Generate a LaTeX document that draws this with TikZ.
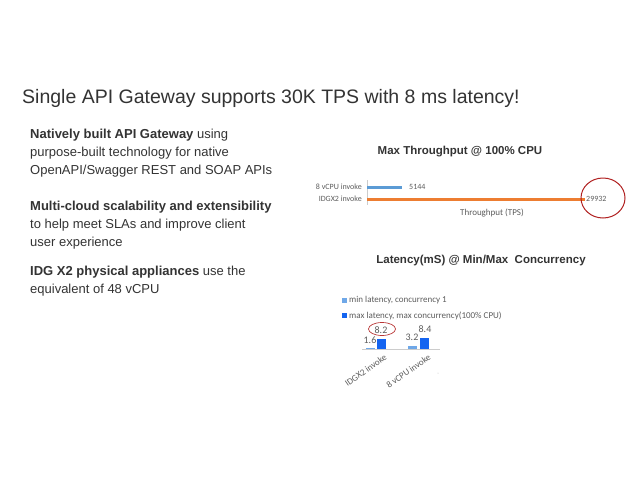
\documentclass[tikz,border=0pt]{standalone}
\usepackage{fontspec}
\usetikzlibrary{shapes.geometric}
\setmainfont{Liberation Sans}
\newfontfamily\calfont{Carlito}
\definecolor{txt}{HTML}{333333}
\definecolor{bl}{HTML}{5B9BD5}
\definecolor{lb}{HTML}{6FA8E8}
\definecolor{db}{HTML}{1464F0}
\definecolor{org}{HTML}{ED7D31}
\definecolor{rd}{HTML}{B02020}
\begin{document}
\begin{tikzpicture}[x=1pt,y=-1pt,
  body/.style={anchor=west,font=\fontsize{13}{15}\selectfont,text=txt,inner sep=0},
  ctitle/.style={font=\bfseries\fontsize{11.5}{13}\selectfont,text=txt},
  small/.style={font=\calfont\fontsize{8}{9}\selectfont,text=txt!80,inner sep=1pt},
  val/.style={font=\calfont\fontsize{10}{11}\selectfont,text=txt!80,inner sep=1pt},
  ring/.style={draw=rd,line width=1pt,ellipse}]
\useasboundingbox (0,0) rectangle (638,493);
\node[anchor=west,inner sep=0,font=\fontsize{19.5}{22}\selectfont,text=txt] (title) at (22,98) {Single API Gateway supports 30K TPS with 8 ms latency!};
\node[body] (l1) at (30,135) {\textbf{Natively built API Gateway} using};
\node[body] (l2) at (30,153) {purpose-built technology for native};
\node[body] (l3) at (30,171) {OpenAPI/Swagger REST and SOAP APIs};
\node[body] (l4) at (30,207) {\textbf{Multi-cloud scalability and extensibility}};
\node[body] (l5) at (30,225) {to help meet SLAs and improve client};
\node[body] (l6) at (30,243) {user experience};
\node[body] (l7) at (30,272) {\textbf{IDG X2 physical appliances} use the};
\node[body] (l8) at (30,290) {equivalent of 48 vCPU};
% chart 1
\node[ctitle] (t1) at (460,152) {Max Throughput @ 100\% CPU};
\draw[gray!40] (367,180) -- (367,205);
\fill[bl] (367,185.5) rectangle (402,188.5);
\fill[org] (367,197.5) rectangle (585,200.5);
\node[small,anchor=east] (c1) at (363,187) {8 vCPU invoke};
\node[small,anchor=east] (c2) at (363,199) {IDGX2 invoke};
\node[small,anchor=west] (v1) at (408,187) {5144};
\node[small,anchor=west] (v2) at (585,199) {29932};
\node[small,font=\calfont\fontsize{9}{10}\selectfont] (ax) at (492,213) {Throughput (TPS)};
\node[ring,minimum width=44,minimum height=40] (r1) at (603,198) {};
% chart 2
\node[ctitle] (t2) at (481,261) {Latency(mS) @ Min/Max\ \ Concurrency};
\fill[lb] (342,298) rectangle (347,303);
\fill[db] (342,313) rectangle (347,318);
\node[small,anchor=west,font=\calfont\fontsize{9}{10}\selectfont] (g1) at (348,300.5) {min latency, concurrency 1};
\node[small,anchor=west,font=\calfont\fontsize{9}{10}\selectfont] (g2) at (348,315.5) {max latency, max concurrency(100\% CPU)};
\draw[gray!40] (362,349) -- (440,349);
\fill[lb] (366,347.5) rectangle (375,349);
\fill[db] (377,339) rectangle (386,349);
\fill[lb] (408,346) rectangle (417,349);
\fill[db] (420,338) rectangle (429,349);
\node[val] (b1) at (370,340) {1.6};
\node[val] (b2) at (381,330) {8.2};
\node[val] (b3) at (412,337) {3.2};
\node[val] (b4) at (425,329) {8.4};
\node[ring,draw=rd!90,line width=0.7pt,minimum width=27,minimum height=13] (r2) at (382,329) {};
\node[small,anchor=north east,rotate=35,font=\calfont\fontsize{9}{10}\selectfont] (x1) at (384,352) {IDGX2 invoke};
\node[small,anchor=north east,rotate=35,font=\calfont\fontsize{9}{10}\selectfont] (x2) at (428,352) {8 vCPU invoke};
\fill[gray!50] (438,373) circle (0.5);
\end{tikzpicture}
\end{document}
